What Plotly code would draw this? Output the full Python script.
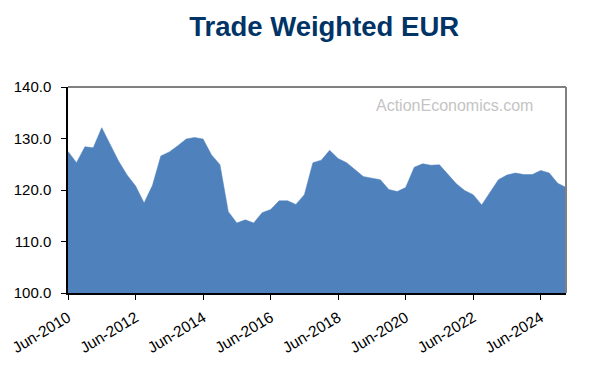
import pandas as pd
import plotly.graph_objects as go

title_text = "Trade Weighted EUR"
watermark = "ActionEconomics.com"

start_quarter = "2010-06-01"
n_quarters = 60
dates = pd.date_range(start_quarter, periods=n_quarters, freq="3MS")

eur_index = [127.5, 125.3, 128.4, 128.2, 132.1, 128.8, 125.6, 122.9, 120.8, 117.5,
             120.9, 126.6, 127.4, 128.6, 129.9, 130.2, 129.9, 126.8, 124.9, 115.8,
             113.6, 114.2, 113.6, 115.6, 116.2, 117.9, 117.9, 117.2, 119.1, 125.3,
             125.8, 127.7, 126.1, 125.3, 124.0, 122.6, 122.3, 122.0, 120.1, 119.7,
             120.5, 124.4, 125.1, 124.8, 124.9, 123.1, 121.2, 119.9, 119.1, 117.1,
             119.5, 122.0, 122.9, 123.3, 123.0, 123.0, 123.8, 123.3, 121.3, 120.5]

y_ticks = [100, 110, 120, 130, 140]

fill_color = "#4F81BD"
font_family = "Arial, Liberation Sans, sans-serif"

fig = go.Figure()
fig.add_trace(go.Scatter(
    x=dates, y=eur_index, mode="lines", fill="tozeroy",
    fillcolor=fill_color, line=dict(color=fill_color, width=0.5),
    hoverinfo="x+y", showlegend=False,
))

# page body has an 8px margin; figure sized/offset to compensate
fig.update_layout(
    width=608, height=359,
    margin=dict(l=60, r=50, t=79, b=74, autoexpand=False),
    paper_bgcolor="white", plot_bgcolor="white",
    font=dict(family=font_family, size=15, color="black"),
    title=dict(text="<b>" + title_text + "</b>", x=0.52, xanchor="center",
               y=0.95, yanchor="middle",
               font=dict(family=font_family, size=27.5, color="#003366")),
    showlegend=False,
)

fig.update_xaxes(
    type="date", range=[dates[0], dates[-1]],
    tick0=start_quarter, dtick="M24", tickformat="%b-%Y",
    tickangle=-31, ticks="outside", ticklen=5, tickcolor="black",
    ticklabelstandoff=3,
    showline=True, linecolor="black", linewidth=1.5,
    showgrid=False, zeroline=False, automargin=False,
    tickfont=dict(size=15.5, color="black"),
)
fig.update_yaxes(
    range=[100, 140], tickvals=y_ticks, tickformat=".1f",
    ticks="outside", ticklen=5, tickcolor="black", ticklabelstandoff=7,
    showline=True, linecolor="black", linewidth=1.5,
    showgrid=False, zeroline=False, automargin=False,
    tickfont=dict(size=15, color="black"),
)

# gray frame on top and right
fig.add_shape(type="line", xref="paper", yref="paper", x0=0, x1=1, y0=1, y1=1,
              line=dict(color="#808080", width=2))
fig.add_shape(type="line", xref="paper", yref="paper", x0=1, x1=1, y0=0, y1=1,
              line=dict(color="#808080", width=2))

fig.add_annotation(text=watermark, xref="paper", yref="paper",
                   x=0.777, y=0.91, xanchor="center", yanchor="middle",
                   showarrow=False,
                   font=dict(family=font_family, size=16, color="#c4c4c4"))

fig.write_html("out.html")
